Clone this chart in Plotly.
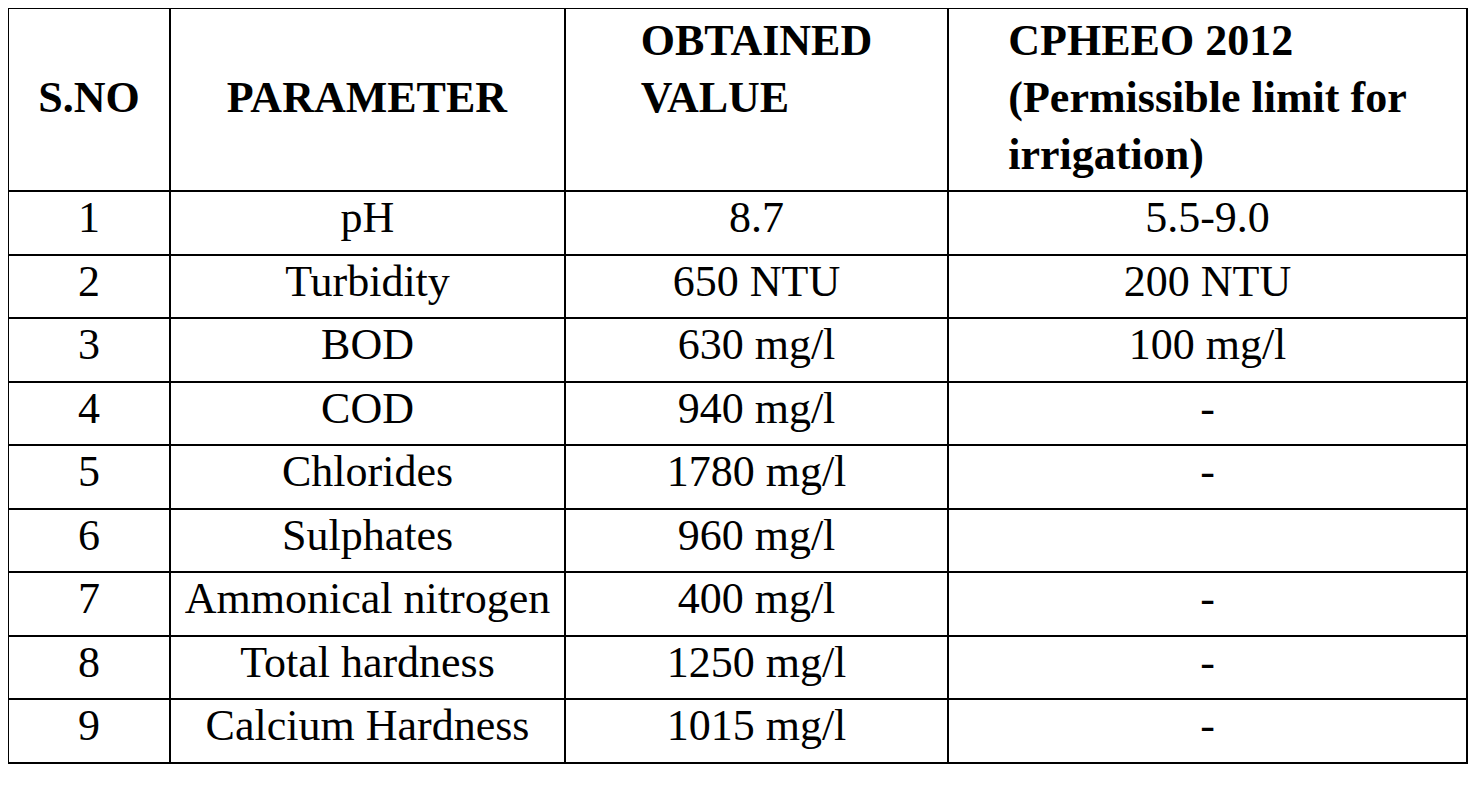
import plotly.graph_objects as go

headers = ["\u00a0<br>S.NO", "\u00a0<br>PARAMETER", "OBTAINED<br>VALUE",
           "CPHEEO 2012<br>(Permissible limit for<br>irrigation)"]
sno = ["1", "2", "3", "4", "5", "6", "7", "8", "9"]
parameters = ["pH", "Turbidity", "BOD", "COD", "Chlorides", "Sulphates",
              "Ammonical nitrogen", "Total hardness", "Calcium Hardness"]
obtained = ["8.7", "650 NTU", "630 mg/l", "940 mg/l", "1780 mg/l", "960 mg/l",
            "400 mg/l", "1250 mg/l", "1015 mg/l"]
limits = ["5.5-9.0", "200 NTU", "100 mg/l", "-", "-", "", "-", "-", "-"]

fam = "Liberation Serif, Times New Roman, serif"
fig = go.Figure(go.Table(
    domain=dict(x=[0, 1459/1476], y=[0, 1]),
    columnwidth=[162, 395, 383, 519],
    header=dict(values=headers, height=183, align="center",
                line=dict(color="black", width=2), fill_color="white",
                font=dict(family=fam, size=44, color="black", weight="bold")),
    cells=dict(values=[sno, parameters, obtained, limits], height=63.5, align="center",
               line=dict(color="black", width=2), fill_color="white",
               font=dict(family=fam, size=44, color="black")),
))
fig.update_layout(width=1476, height=804, margin=dict(l=0, r=0, t=0, b=0),
                  paper_bgcolor="white")
fig.write_html("out.html")
